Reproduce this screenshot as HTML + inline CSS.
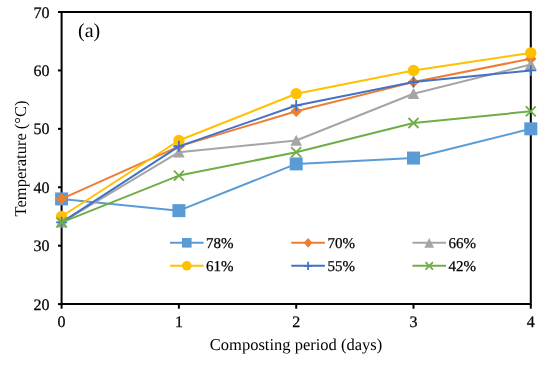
<!DOCTYPE html>
<html><head><meta charset="utf-8"><style>
html,body{margin:0;padding:0;background:#fff;width:550px;height:367px;overflow:hidden}
svg{display:block;will-change:transform;text-rendering:geometricPrecision}
.t{font-family:"Liberation Serif",serif;font-size:15px;fill:#000;stroke:#000;stroke-width:0.25px}
.tk{font-family:"Liberation Serif",serif;font-size:16px;fill:#000;stroke:#000;stroke-width:0.25px}
.ti{font-family:"Liberation Serif",serif;font-size:16.5px;fill:#000}
.ta{font-family:"Liberation Serif",serif;font-size:20px;fill:#000}
</style></head><body>
<svg width="550" height="367" viewBox="0 0 550 367">
<path d="M61.60 12.00H530.80V304.10H61.60Z" fill="none" stroke="#000" stroke-width="2"/>
<path d="M58.00 304.10H61.60" stroke="#000" stroke-width="2"/>
<text x="49.6" y="309.70" text-anchor="end" class="tk">20</text>
<path d="M58.00 245.68H61.60" stroke="#000" stroke-width="2"/>
<text x="49.6" y="251.28" text-anchor="end" class="tk">30</text>
<path d="M58.00 187.26H61.60" stroke="#000" stroke-width="2"/>
<text x="49.6" y="192.86" text-anchor="end" class="tk">40</text>
<path d="M58.00 128.84H61.60" stroke="#000" stroke-width="2"/>
<text x="49.6" y="134.44" text-anchor="end" class="tk">50</text>
<path d="M58.00 70.42H61.60" stroke="#000" stroke-width="2"/>
<text x="49.6" y="76.02" text-anchor="end" class="tk">60</text>
<path d="M58.00 12.00H61.60" stroke="#000" stroke-width="2"/>
<text x="49.6" y="17.60" text-anchor="end" class="tk">70</text>
<path d="M61.60 304.10V308.70" stroke="#000" stroke-width="2"/>
<text x="61.60" y="327.0" text-anchor="middle" class="tk">0</text>
<path d="M178.90 304.10V308.70" stroke="#000" stroke-width="2"/>
<text x="178.90" y="327.0" text-anchor="middle" class="tk">1</text>
<path d="M296.20 304.10V308.70" stroke="#000" stroke-width="2"/>
<text x="296.20" y="327.0" text-anchor="middle" class="tk">2</text>
<path d="M413.50 304.10V308.70" stroke="#000" stroke-width="2"/>
<text x="413.50" y="327.0" text-anchor="middle" class="tk">3</text>
<path d="M530.80 304.10V308.70" stroke="#000" stroke-width="2"/>
<text x="530.80" y="327.0" text-anchor="middle" class="tk">4</text>
<polyline points="61.60,198.94 178.90,210.63 296.20,163.89 413.50,158.05 530.80,128.84" fill="none" stroke="#5B9BD5" stroke-width="2" stroke-linejoin="round"/>
<rect x="55.10" y="192.44" width="13.00" height="13.00" fill="#5B9BD5"/>
<rect x="172.40" y="204.13" width="13.00" height="13.00" fill="#5B9BD5"/>
<rect x="289.70" y="157.39" width="13.00" height="13.00" fill="#5B9BD5"/>
<rect x="407.00" y="151.55" width="13.00" height="13.00" fill="#5B9BD5"/>
<rect x="524.30" y="122.34" width="13.00" height="13.00" fill="#5B9BD5"/>
<polyline points="61.60,198.94 178.90,146.37 296.20,111.31 413.50,82.10 530.80,58.74" fill="none" stroke="#ED7D31" stroke-width="2" stroke-linejoin="round"/>
<path d="M61.60 193.24L67.30 198.94L61.60 204.64L55.90 198.94Z" fill="#ED7D31"/>
<path d="M178.90 140.67L184.60 146.37L178.90 152.07L173.20 146.37Z" fill="#ED7D31"/>
<path d="M296.20 105.61L301.90 111.31L296.20 117.01L290.50 111.31Z" fill="#ED7D31"/>
<path d="M413.50 76.40L419.20 82.10L413.50 87.80L407.80 82.10Z" fill="#ED7D31"/>
<path d="M530.80 53.04L536.50 58.74L530.80 64.44L525.10 58.74Z" fill="#ED7D31"/>
<polyline points="61.60,222.31 178.90,152.21 296.20,140.52 413.50,93.79 530.80,64.58" fill="none" stroke="#A5A5A5" stroke-width="2" stroke-linejoin="round"/>
<path d="M61.60 216.51L67.40 227.51L55.80 227.51Z" fill="#A5A5A5"/>
<path d="M178.90 146.41L184.70 157.41L173.10 157.41Z" fill="#A5A5A5"/>
<path d="M296.20 134.72L302.00 145.72L290.40 145.72Z" fill="#A5A5A5"/>
<path d="M413.50 87.99L419.30 98.99L407.70 98.99Z" fill="#A5A5A5"/>
<path d="M530.80 58.78L536.60 69.78L525.00 69.78Z" fill="#A5A5A5"/>
<polyline points="61.60,216.47 178.90,140.52 296.20,93.79 413.50,70.42 530.80,52.89" fill="none" stroke="#FFC000" stroke-width="2" stroke-linejoin="round"/>
<circle cx="61.60" cy="216.47" r="5.70" fill="#FFC000"/>
<circle cx="178.90" cy="140.52" r="5.70" fill="#FFC000"/>
<circle cx="296.20" cy="93.79" r="5.70" fill="#FFC000"/>
<circle cx="413.50" cy="70.42" r="5.70" fill="#FFC000"/>
<circle cx="530.80" cy="52.89" r="5.70" fill="#FFC000"/>
<polyline points="61.60,222.31 178.90,146.37 296.20,105.47 413.50,82.10 530.80,70.42" fill="none" stroke="#4472C4" stroke-width="2" stroke-linejoin="round"/>
<path d="M56.10 222.31H67.10M61.60 216.81V227.81" stroke="#4472C4" stroke-width="1.8" fill="none"/>
<path d="M173.40 146.37H184.40M178.90 140.87V151.87" stroke="#4472C4" stroke-width="1.8" fill="none"/>
<path d="M290.70 105.47H301.70M296.20 99.97V110.97" stroke="#4472C4" stroke-width="1.8" fill="none"/>
<path d="M408.00 82.10H419.00M413.50 76.60V87.60" stroke="#4472C4" stroke-width="1.8" fill="none"/>
<path d="M525.30 70.42H536.30M530.80 64.92V75.92" stroke="#4472C4" stroke-width="1.8" fill="none"/>
<polyline points="61.60,222.31 178.90,175.58 296.20,152.21 413.50,123.00 530.80,111.31" fill="none" stroke="#70AD47" stroke-width="2" stroke-linejoin="round"/>
<path d="M56.60 217.31L66.60 227.31M66.60 217.31L56.60 227.31" stroke="#70AD47" stroke-width="1.8" fill="none"/>
<path d="M173.90 170.58L183.90 180.58M183.90 170.58L173.90 180.58" stroke="#70AD47" stroke-width="1.8" fill="none"/>
<path d="M291.20 147.21L301.20 157.21M301.20 147.21L291.20 157.21" stroke="#70AD47" stroke-width="1.8" fill="none"/>
<path d="M408.50 118.00L418.50 128.00M418.50 118.00L408.50 128.00" stroke="#70AD47" stroke-width="1.8" fill="none"/>
<path d="M525.80 106.31L535.80 116.31M535.80 106.31L525.80 116.31" stroke="#70AD47" stroke-width="1.8" fill="none"/>
<path d="M170.00 242.80H203.60" stroke="#5B9BD5" stroke-width="2"/>
<rect x="182.00" y="238.00" width="9.60" height="9.60" fill="#5B9BD5"/>
<text x="206.10" y="247.50" class="t">78%</text>
<path d="M291.30 242.80H324.90" stroke="#ED7D31" stroke-width="2"/>
<path d="M308.10 237.90L312.40 242.80L308.10 247.70L303.80 242.80Z" fill="#ED7D31"/>
<text x="327.40" y="247.50" class="t">70%</text>
<path d="M412.40 242.80H446.00" stroke="#A5A5A5" stroke-width="2"/>
<path d="M429.20 238.10L434.10 247.70L424.30 247.70Z" fill="#A5A5A5"/>
<text x="448.50" y="247.50" class="t">66%</text>
<path d="M170.00 265.80H203.60" stroke="#FFC000" stroke-width="2"/>
<circle cx="186.80" cy="265.80" r="4.80" fill="#FFC000"/>
<text x="206.10" y="270.50" class="t">61%</text>
<path d="M291.30 265.80H324.90" stroke="#4472C4" stroke-width="2"/>
<path d="M303.98 265.80H312.23M308.10 261.68V269.93" stroke="#4472C4" stroke-width="1.8" fill="none"/>
<text x="327.40" y="270.50" class="t">55%</text>
<path d="M412.40 265.80H446.00" stroke="#70AD47" stroke-width="2"/>
<path d="M425.45 262.05L432.95 269.55M432.95 262.05L425.45 269.55" stroke="#70AD47" stroke-width="1.8" fill="none"/>
<text x="448.50" y="270.50" class="t">42%</text>
<text x="296" y="350.2" text-anchor="middle" class="ti">Composting period (days)</text>
<text transform="translate(25.8 158.5) rotate(-90)" text-anchor="middle" class="ti">Temperature (°C)</text>
<text x="78" y="37.3" class="ta">(a)</text>
</svg>
</body></html>
